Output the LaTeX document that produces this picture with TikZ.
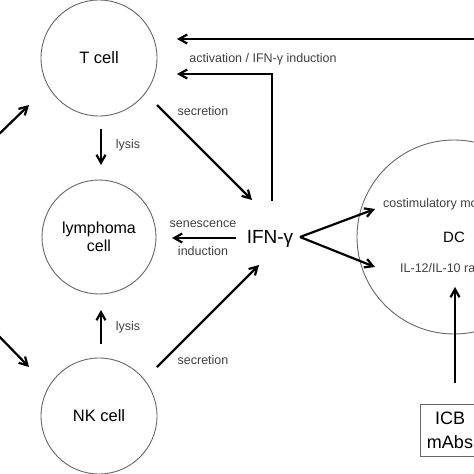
\documentclass[tikz,border=0pt]{standalone}
\usepackage{fontspec}
\setmainfont{Liberation Sans}
\usetikzlibrary{arrows.meta,positioning,calc}

\tikzset{
	cell/.style={circle,draw=black!60,line width=0.9pt,minimum size=116pt,inner sep=0pt,font=\fontsize{16.5}{18}\selectfont},
	lab/.style={text=black!75,inner sep=0pt,anchor=base,font=\fontsize{12.5}{15}\selectfont},
	arr/.style={->,line width=2.2pt},
	icbbox/.style={draw=black!60,line width=0.9pt,align=center,minimum width=60pt,minimum height=52pt,inner sep=0pt,font=\fontsize{18}{24}\selectfont}
}

\begin{document}
\begin{tikzpicture}[x=1pt,y=-1pt,>={Straight Barb[length=8pt,width=9pt]}]
		\useasboundingbox (0,0) rectangle (474,474);
		\clip (0,0) rectangle (474,474);

		\node[cell] (tcell) at (99,58) {T cell};
		\node[cell,minimum size=114pt,align=center,font=\fontsize{16}{18}\selectfont] (lymph) at (99,237) {lymphoma\\cell};
		\node[cell] (nkcell) at (99,416) {NK cell};
		\node[inner sep=0pt,text height=14pt,text depth=0pt,font=\fontsize{19}{22}\selectfont] (ifng) at (270,236) {IFN-γ};
		\node[cell,minimum size=194pt,font=\fontsize{15}{18}\selectfont] (dc) at (454,237) {DC};
		\node[icbbox] (icb) at (450,430) {ICB\\mAbs};

		\coordinate (rightin) at (480,39);
		\coordinate (leftin1) at (-6,139);
		\coordinate (leftin2) at (-6,331);

		\draw[arr] (rightin) -- ($(tcell)+(78,-19)$);
		\draw[arr] ($(ifng)+(2,-35)$) |- ($(tcell)+(78,16)$);
		\draw[arr] ($(tcell)+(58,47)$) -- ($(ifng)+(-18,-36)$);
		\draw[arr] ($(tcell)+(2,71)$) -- ($(lymph)+(2,-72)$);
		\draw[arr] ($(ifng)+(-34,2)$) -- ($(lymph)+(73,1)$);
		\draw[arr] ($(nkcell)+(2,-72)$) -- ($(lymph)+(2,73)$);
		\draw[arr] ($(nkcell)+(58,-49)$) -- ($(ifng)+(-11,29)$);
		\draw[arr] ($(ifng)+(30,1)$) -- ($(dc)+(-79,-28)$);
		\draw[arr] ($(ifng)+(30,1)$) -- ($(dc)+(-79,30)$);
		\draw[arr] ($(icb)+(5,-47)$) -- ($(dc)+(1,50)$);
		\draw[arr] (leftin1) -- ($(tcell)+(-70,47)$);
		\draw[arr] (leftin2) -- ($(nkcell)+(-70,-49)$);

		\node[lab] (actlab) at (263,62) {activation / IFN-γ induction};
		\node[lab] (seclab1) at (203,115) {secretion};
		\node[lab] (lyslab1) at (128,148) {lysis};
		\node[lab] (senlab) at (203,227) {senescence};
		\node[lab] (indlab) at (203,255) {induction};
		\node[lab] (lyslab2) at (128,330) {lysis};
		\node[lab] (seclab2) at (203,364) {secretion};
		\node[lab,anchor=base west] (costlab) at (383,207) {costimulatory molecules};
		\node[lab,anchor=base west] (ratiolab) at (400,272) {IL-12/IL-10 ratio};
\end{tikzpicture}
\end{document}
